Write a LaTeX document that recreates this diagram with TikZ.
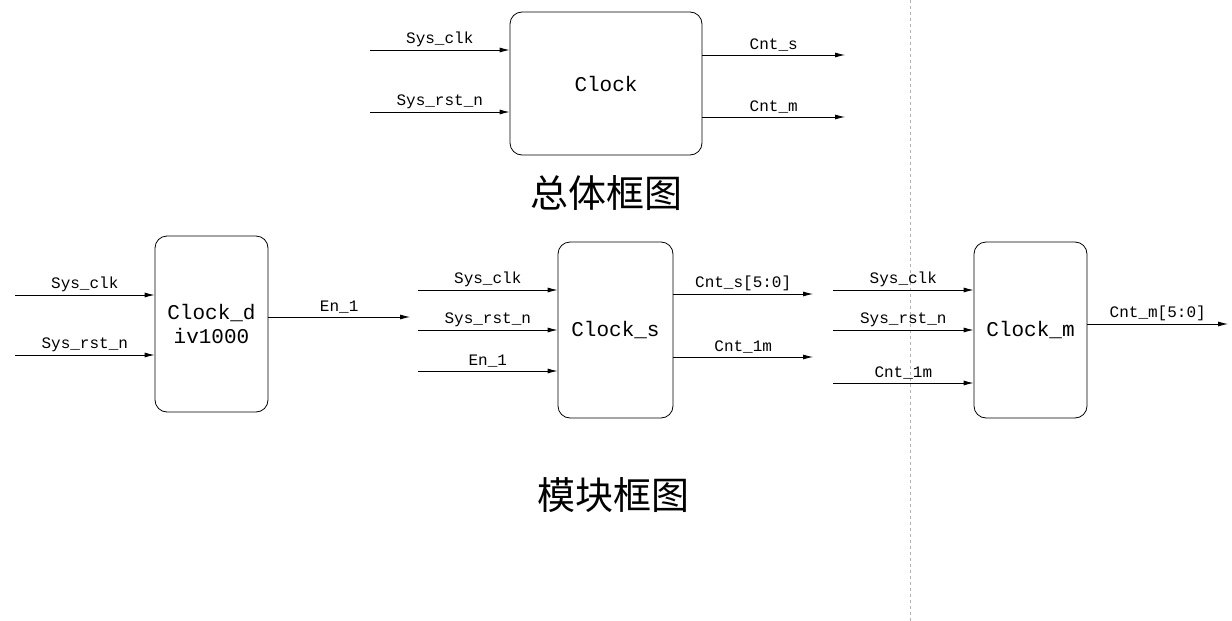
\documentclass[tikz,border=0pt]{standalone}
\usepackage{fontspec}
\setmonofont{Liberation Mono}
\newfontfamily\cjk{Noto Sans CJK SC}
\usetikzlibrary{arrows.meta}
\begin{document}
\begin{tikzpicture}[x=1pt,y=-1pt,
 box/.style={draw,thick,rounded corners=12pt,inner sep=0pt,font=\ttfamily\fontsize{21}{24}\selectfont,align=center},
 sig/.style={-{Latex[length=10pt,width=5pt]},thick},
 lab/.style={font=\ttfamily\fontsize{16}{18}\selectfont,above,inner sep=3pt},
 ttl/.style={font=\cjk\fontsize{38}{40}\selectfont}]
\useasboundingbox (0,0) rectangle (1232,621);
\draw[gray!60,dashed] (910,0) -- (910,621);
% top
\node[box,minimum width=192pt,minimum height=143pt] (clk) at (606,83.5) {Clock};
\coordinate (a1) at (370,50); \coordinate (a2) at (370,112);
\coordinate (b1) at (845,55); \coordinate (b2) at (845,117);
\draw[sig] (a1) -- node[lab]{Sys\_clk} (a1-|clk.west);
\draw[sig] (a2) -- node[lab]{Sys\_rst\_n} (a2-|clk.west);
\draw[sig] (b1-|clk.east) -- node[lab]{Cnt\_s} (b1);
\draw[sig] (b2-|clk.east) -- node[lab]{Cnt\_m} (b2);
\node[ttl] (t1) at (606,193) {总体框图};
% div
\node[box,minimum width=113pt,minimum height=176pt] (div) at (211.5,324) {Clock\_d\\iv1000};
\coordinate (c1) at (15,295); \coordinate (c2) at (15,355); \coordinate (c3) at (410,317);
\draw[sig] (c1) -- node[lab]{Sys\_clk} (c1-|div.west);
\draw[sig] (c2) -- node[lab]{Sys\_rst\_n} (c2-|div.west);
\draw[sig] (c3-|div.east) -- node[lab]{En\_1} (c3);
% clock_s
\node[box,minimum width=115pt,minimum height=176pt] (cs) at (615.5,330) {Clock\_s};
\coordinate (d1) at (418,290); \coordinate (d2) at (418,330); \coordinate (d3) at (418,371);
\coordinate (e1) at (813,294); \coordinate (e2) at (813,357);
\draw[sig] (d1) -- node[lab]{Sys\_clk} (d1-|cs.west);
\draw[sig] (d2) -- node[lab]{Sys\_rst\_n} (d2-|cs.west);
\draw[sig] (d3) -- node[lab]{En\_1} (d3-|cs.west);
\draw[sig] (e1-|cs.east) -- node[lab]{Cnt\_s[5:0]} (e1);
\draw[sig] (e2-|cs.east) -- node[lab]{Cnt\_1m} (e2);
% clock_m
\node[box,minimum width=113pt,minimum height=176pt] (cm) at (1030.5,330) {Clock\_m};
\coordinate (f1) at (833,290); \coordinate (f2) at (833,330); \coordinate (f3) at (833,383);
\coordinate (g1) at (1228,324);
\draw[sig] (f1) -- node[lab]{Sys\_clk} (f1-|cm.west);
\draw[sig] (f2) -- node[lab]{Sys\_rst\_n} (f2-|cm.west);
\draw[sig] (f3) -- node[lab]{Cnt\_1m} (f3-|cm.west);
\draw[sig] (g1-|cm.east) -- node[lab]{Cnt\_m[5:0]} (g1);
\node[ttl] (t2) at (613,495) {模块框图};
\end{tikzpicture}
\end{document}
